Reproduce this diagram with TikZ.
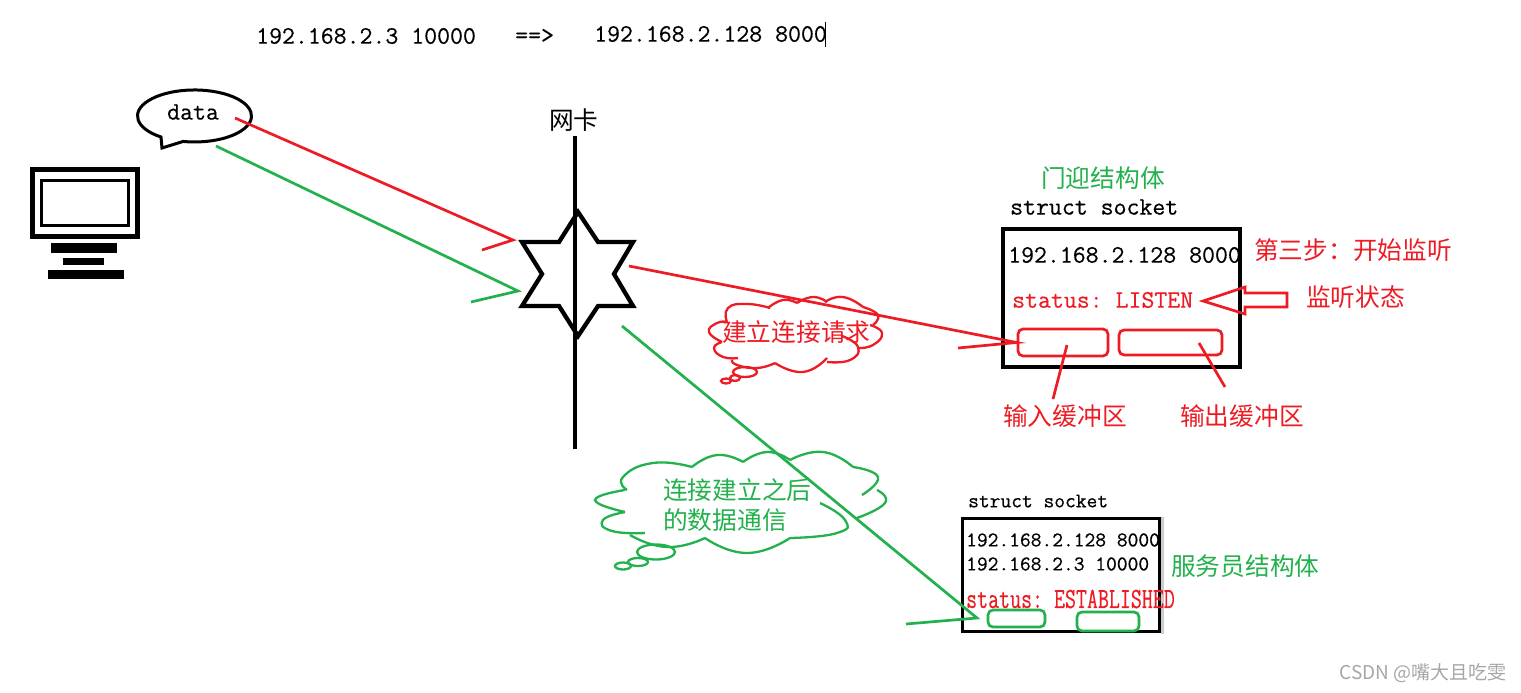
\documentclass[tikz,border=0pt]{standalone}
\usepackage{fontspec}
\setmonofont{Latin Modern Mono}[FakeBold=0.5]
\newfontfamily\cjk{Noto Sans CJK SC}
\usetikzlibrary{positioning, calc}
\definecolor{paintred}{HTML}{ED1C24}
\definecolor{paintgreen}{HTML}{22B14C}
\tikzset{
	latin/.style={anchor=west, inner sep=0pt, font=\ttfamily\fontsize{25.1}{27}\selectfont},
	small/.style={anchor=west, inner sep=0pt, font=\ttfamily\fontsize{20.9}{22}\selectfont},
	han/.style={anchor=west, inner sep=0pt, font=\cjk\fontsize{24.7}{30}\selectfont},
	redline/.style={draw=paintred, line width=2.7pt},
	greenline/.style={draw=paintgreen, line width=2.7pt},
	buffer/.style={draw, rounded corners=5pt, inner sep=0pt}
}
% one puff of a cloud
\newcommand{\lobe}[2]{\draw[#1, line width=2.3pt] plot[smooth, tension=0.9] coordinates {#2};}
\begin{document}
\begin{tikzpicture}[x=1pt,y=-1pt]
	\useasboundingbox (0,0) rectangle (1521,693);
	% Top line
	\node[latin] (src) at (256,36) {192.168.2.3 10000};
	\node[latin] (fwd) at (515,36) {==>};
	\node[latin] (dst) at (594,34) {192.168.2.128 8000};
	\coordinate (caretT) at (825,22);
	\coordinate (caretB) at (825,47);
	\draw[line width=0.8pt] (caretT) -- (caretB);
	
	% Computer
	\draw[line width=5pt] (32.5,169.5) rectangle (137.5,236.5);
	\draw[line width=2.8pt] (41.5,180.5) rectangle (128.5,225.5);
	\foreach \xa/\ya/\xb/\yb in {51/243/117/253, 63/258/104/265, 48/270/124/279}
		\fill (\xa,\ya) rectangle (\xb,\yb);
	
	% Data bubble
	\draw[line width=3pt] (161,137) arc[start angle=126, end angle=461.5, x radius=57, y radius=26]
		-- (162,148) -- cycle;
	\node[latin] (data) at (167,112) {data};
	
	% Network card
	\node[han] (nic) at (549,120) {网卡};
	\coordinate (nicT) at (575,136);
	\coordinate (nicB) at (575,449);
	\draw[line width=4.7pt] (nicT) -- (nicB);
	\draw[line width=4.3pt, line join=miter] (578,212) -- (598,242) -- (633,242) -- (614,274) -- (633,306)
		-- (598,306) -- (578,336) -- (559,306) -- (522,306) -- (542,274) -- (522,242) -- (559,242) -- cycle;
	
	% Listening socket
	\node[han, text=paintgreen] (gate) at (1041,178) {门迎结构体};
	\node[latin] (sock) at (1010,207) {struct socket};
	\draw[line width=4pt] (1003,229) rectangle (1240,367);
	\node[latin] (addr) at (1008,255) {192.168.2.128 8000};
	\node[latin, text=paintred] (status) at (1012,300) {status: LISTEN};
	\node[han, text=paintred] (step) at (1254,250) {第三步：开始监听};
	\node[han, text=paintred] (state) at (1306,297) {监听状态};
	\node[buffer, redline, minimum width=90pt, minimum height=27pt] (inbuf) at (1063,342.5) {};
	\node[buffer, redline, minimum width=103pt, minimum height=25pt] (outbuf) at (1170.5,342.5) {};
	\node[han, text=paintred] (inlabel) at (1003,416) {输入缓冲区};
	\node[han, text=paintred] (outlabel) at (1180,416) {输出缓冲区};
	\coordinate (inT) at (1067,345);
	\coordinate (inB) at (1053,399);
	\coordinate (outT) at (1199,343);
	\coordinate (outB) at (1225,387);
	\draw[redline] (inT) -- (inB);
	\draw[redline] (outT) -- (outB);
	\draw[redline, line join=miter] (1203,301) -- (1245,287) -- (1245,293) -- (1287,293) -- (1287,307)
		-- (1245,307) -- (1245,314) -- cycle;
	
	% Red cloud
	\lobe{redline}{(738,358) (723,357) (714,348) (722,342)}
	\lobe{redline}{(722,342) (709,332) (717,323) (727,322)}
	\lobe{redline}{(727,322) (728,308) (747,304) (770,308)}
	\lobe{redline}{(768,308) (783,300) (797,303)}
	\lobe{redline}{(797,303) (813,297) (827,302)}
	\lobe{redline}{(825,302) (843,297) (863,307)}
	\lobe{redline}{(863,307) (878,315) (873,325)}
	\lobe{redline}{(870,325) (882,333) (873,345) (857,348)}
	\lobe{redline}{(842,336) (858,347) (850,360) (827,362)}
	\lobe{redline}{(827,358) (803,372) (775,363)}
	\lobe{redline}{(775,363) (757,368) (737,365) (732,360)}
	\foreach \x/\y/\rx/\ry in {745/372/12/5, 735/378/5/3, 726/381/5/2.5}
		\draw[redline, line width=2.3pt] (\x,\y) ellipse[x radius=\rx, y radius=\ry];
	\node[han, text=paintred] (req) at (722,332) {建立连接请求};
	
	% Green cloud
	\lobe{greenline}{(625,490) (595,500) (625,512)}
	\lobe{greenline}{(625,512) (603,520) (612,531) (645,533)}
	\lobe{greenline}{(627,490) (623,477) (653,463) (692,467)}
	\lobe{greenline}{(692,467) (717,455) (743,462)}
	\lobe{greenline}{(743,462) (767,452) (790,460)}
	\lobe{greenline}{(790,460) (823,452) (853,467)}
	\lobe{greenline}{(853,467) (878,477) (862,495)}
	\lobe{greenline}{(877,490) (885,503) (857,518)}
	\lobe{greenline}{(820,503) (845,520) (837,533) (790,538)}
	\lobe{greenline}{(790,538) (747,553) (705,538)}
	\lobe{greenline}{(705,538) (667,547) (630,535)}
	\foreach \x/\y/\rx/\ry in {656/552/19/7.5, 638/562/10/4, 623/566/8/3.5}
		\draw[greenline, line width=2.3pt] (\x,\y) ellipse[x radius=\rx, y radius=\ry];
	\node[han, text=paintgreen] (after) at (663,490) {连接建立之后};
	\node[han, text=paintgreen] (comm) at (663,520) {的数据通信};
	
	% Served socket
	\node[small] (sock2) at (968,501) {struct socket};
	\fill[gray!40] (1161,517) rectangle (1164,634);
	\draw[line width=3pt] (962.5,518.5) rectangle (1159.5,631.5);
	\node[small] (addr2) at (966,540) {192.168.2.128 8000};
	\node[small] (peer) at (966,564) {192.168.2.3 10000};
	\node[small, text=paintred] (status2) at (966,599) {\scalebox{1.02}[1.4]{status: ESTABLISHED}};
	\node[han, text=paintgreen] (waiter) at (1171,566) {服务员结构体};
	\node[buffer, greenline, minimum width=57pt, minimum height=17pt] (inbuf2) at (1016.5,618.5) {};
	\node[buffer, greenline, minimum width=62pt, minimum height=19pt] (outbuf2) at (1108,621.5) {};
	
	% Connections
	\coordinate (dataR) at (235,118);
	\coordinate (tipR) at (513,240);
	\coordinate (endR) at (482,250);
	\coordinate (dataG) at (216,146);
	\coordinate (tipG) at (518,291);
	\coordinate (endG) at (471,302);
	\coordinate (starR) at (629,266);
	\coordinate (endI) at (958,348);
	\coordinate (starG) at (622,326);
	\coordinate (tipS) at (977,618);
	\coordinate (endS) at (906,624);
	\draw[redline] (dataR) -- (tipR) -- (endR);
	\draw[greenline] (dataG) -- (tipG) -- (endG);
	\draw[redline] (starR) -- (inbuf.west) -- (endI);
	\draw[greenline] (starG) -- (tipS) -- (endS);
	
	% Watermark
	\node[anchor=east, inner sep=0pt, text=gray!70, font=\cjk\fontsize{19}{22}\selectfont] (mark) at (1507,673) {CSDN @嘴大且吃雯};
\end{tikzpicture}
\end{document}
